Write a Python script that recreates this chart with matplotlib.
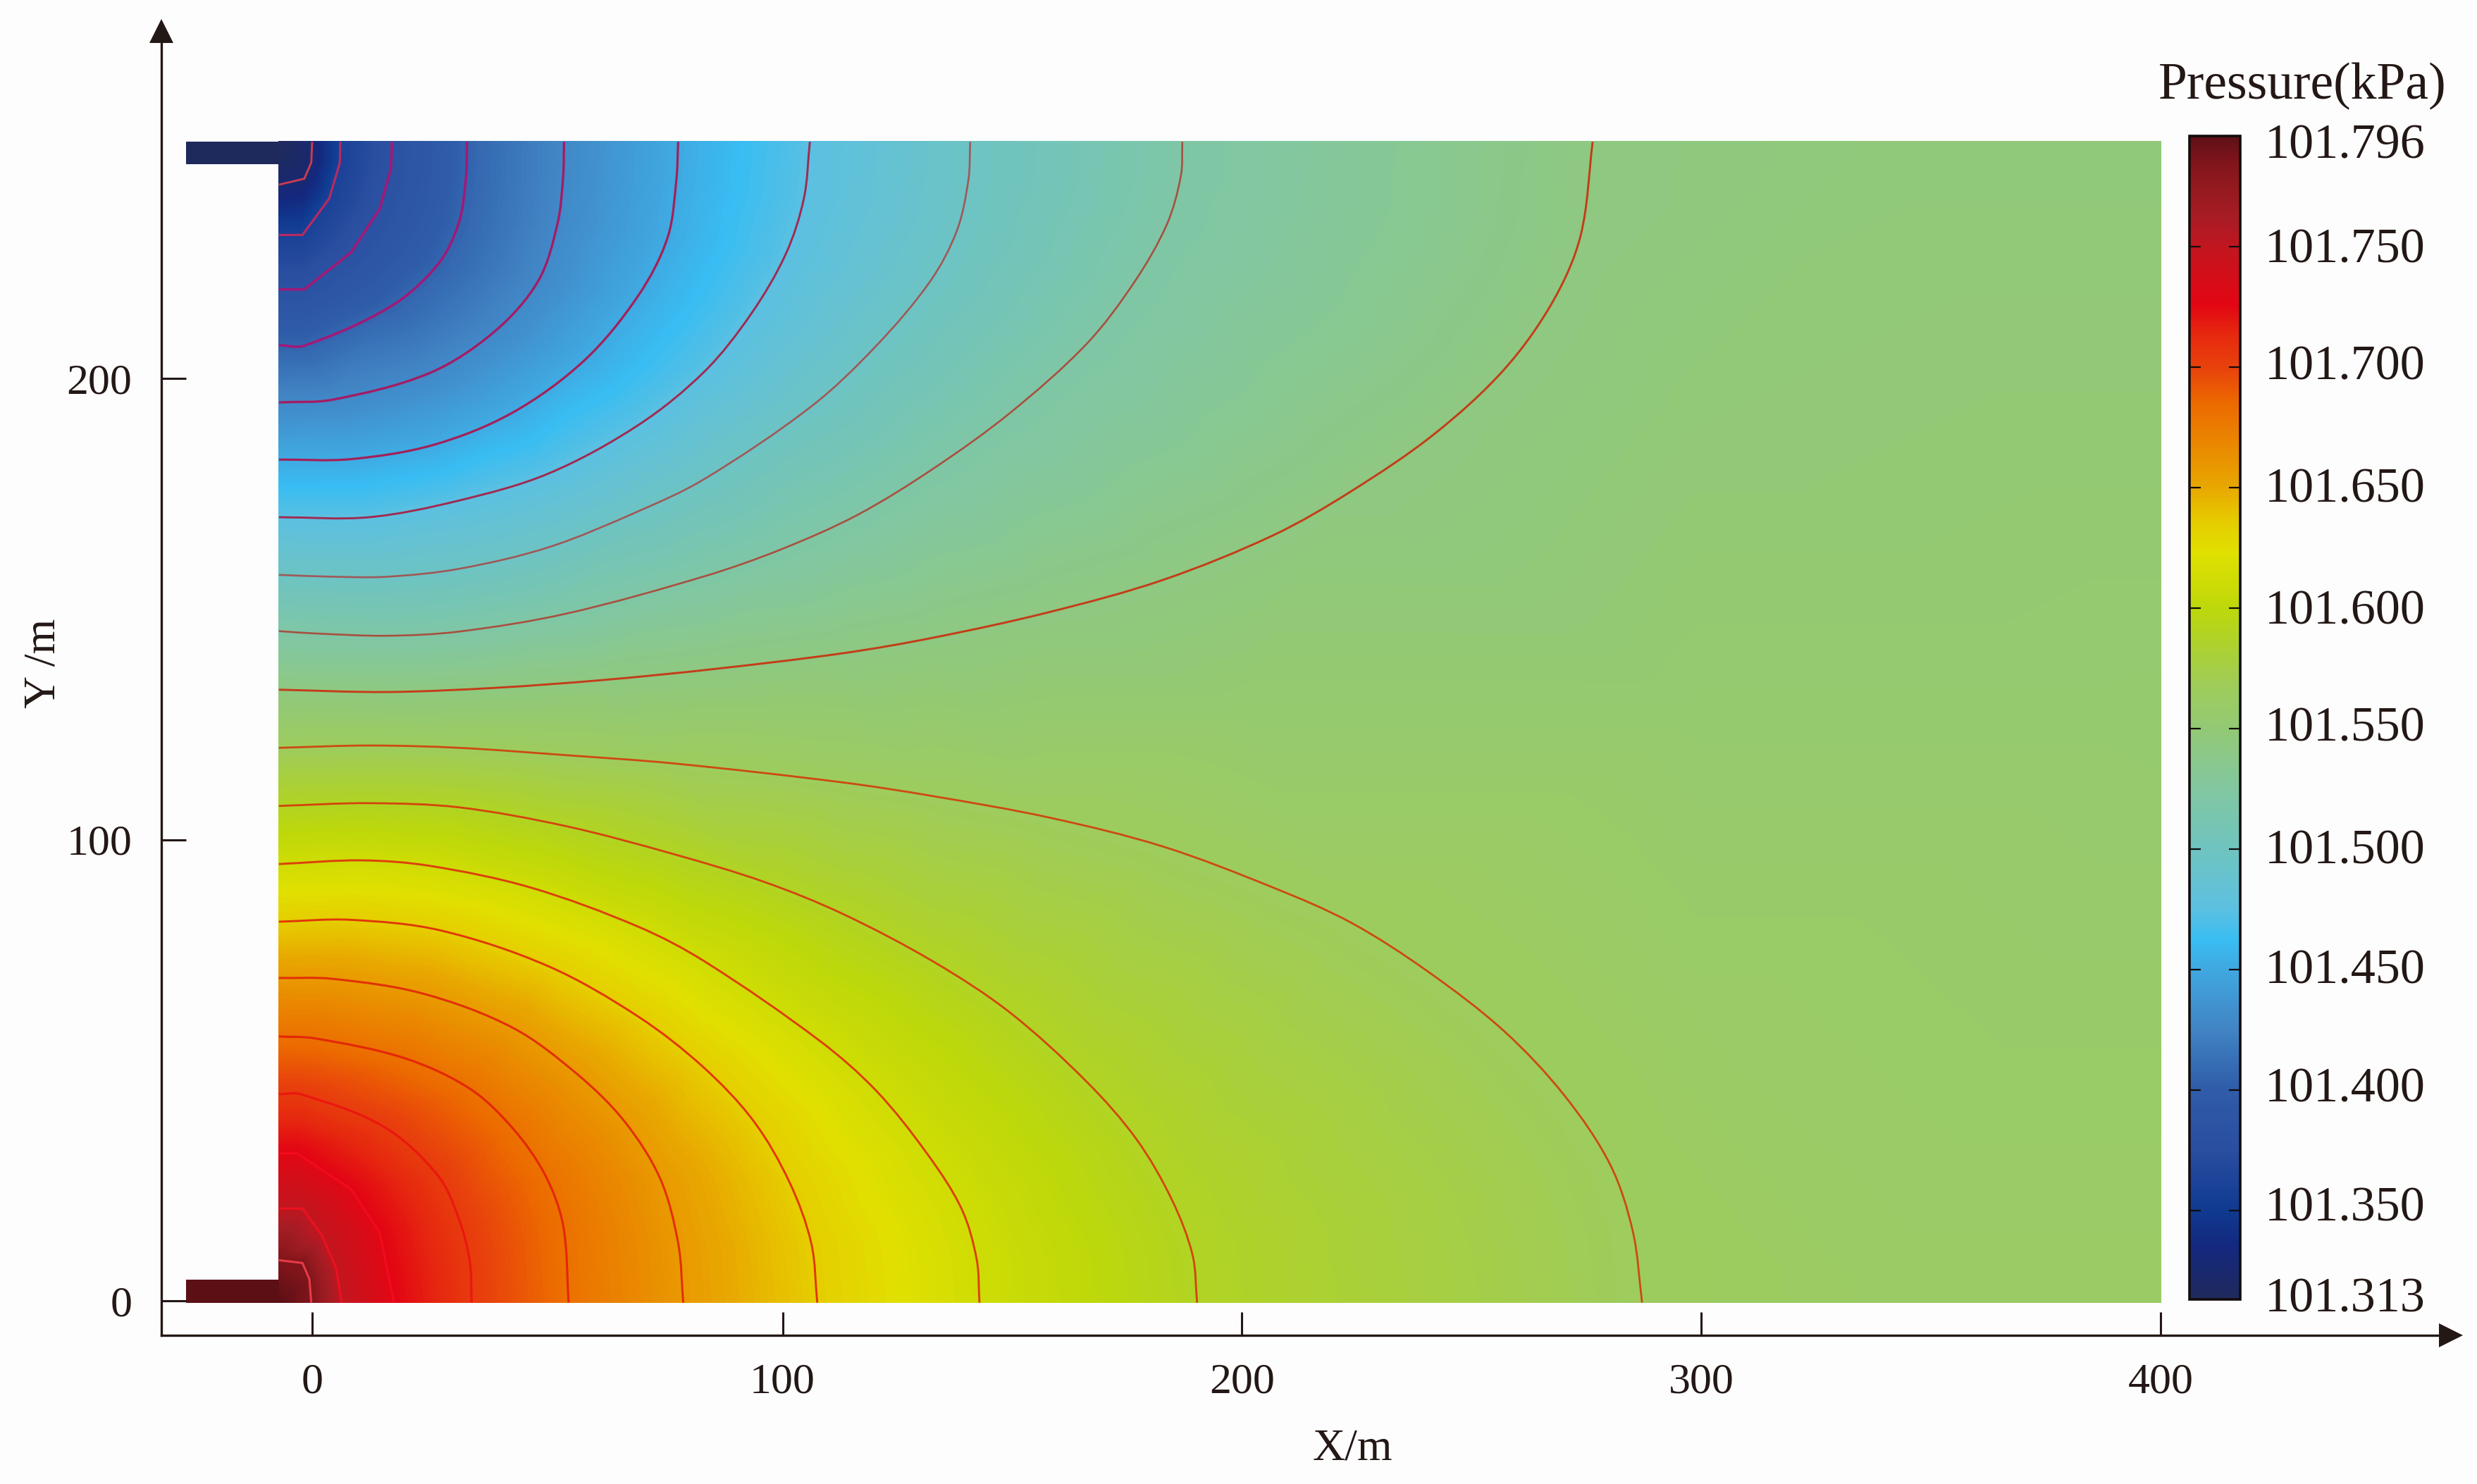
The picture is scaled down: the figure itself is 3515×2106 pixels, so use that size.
import numpy as np
import matplotlib
matplotlib.use('Agg')
import matplotlib.pyplot as plt
import matplotlib.tri as mtri
from matplotlib.colors import LinearSegmentedColormap, Normalize
from matplotlib.cm import ScalarMappable
from matplotlib.patches import PathPatch, Rectangle
from matplotlib.path import Path
from matplotlib.transforms import ScaledTranslation

plt.rcParams['font.family'] = ['Liberation Serif', 'DejaVu Serif']

W, H = 3515, 2106
INK = '#231815'

# values
cbar_values = [101.313, 101.335, 101.35, 101.375, 101.4, 101.425, 101.45, 101.462, 101.475, 101.5,
               101.525, 101.55, 101.567, 101.586, 101.6, 101.623, 101.636, 101.65, 101.67, 101.685,
               101.7, 101.714, 101.726, 101.75, 101.763, 101.774, 101.7875, 101.796]
cbar_colors = ['#1f2a5c', '#14287f', '#0f3a90', '#2a4ea0', '#2f5ca8', '#4184c4', '#40a8e0', '#38bdf2', '#5cc0e0', '#6fc4c0',
               '#82c7a0', '#93c975', '#9ecc5c', '#aed22a', '#bdd80a', '#e0e000', '#e6cc00', '#e8a800', '#ea8400', '#ec6a00',
               '#e8420c', '#e6280f', '#e30613', '#c2161f', '#a61c24', '#961a20', '#7a141a', '#5c1015']
cbar_ticks = [101.313, 101.35, 101.4, 101.45, 101.5, 101.55, 101.6, 101.65, 101.7, 101.75, 101.796]
cbar_label_shift = [7, 9, 7, 4, 4, 7, 2, 4, 7, 2, -7]  # px, hand placed labels in the original

x_tick_pos = [0, 101.8, 201.2, 300.6, 400]
x_tick_labels = ['0', '100', '200', '300', '400']
y_ticks = [0, 100, 200]

# contour lines under the mid line, outermost first
lower_levels = [101.566, 101.589, 101.612, 101.635, 101.658, 101.681, 101.704, 101.727, 101.75, 101.785]
lower_lines = [
    [(-7.2, 119.9), (12.3, 120.4), (31.7, 119.9), (55, 118.3), (78.4, 116.5), (114.8, 112.4), (134.5, 109.4),
     (159.4, 104.8), (184.1, 98.5), (208.2, 89.5), (224.8, 82), (241.3, 71.5), (257.9, 58.5), (271, 44.5),
     (280.9, 29.5), (285.8, 15), (287.8, -0.4)],
    [(-7.2, 107.3), (12.3, 107.9), (31.7, 107), (55, 102.9), (78.4, 96.8), (97.9, 90.8), (114.8, 83.9),
     (134.5, 73.5), (151, 62.5), (167.6, 47.5), (178.4, 35), (186, 22), (190.5, 10), (191.5, -0.4)],
    [(-7.2, 94.7), (10.7, 95.5), (25.5, 94.3), (47.3, 89.6), (70.6, 81.1), (84.9, 73.6), (109.8, 56.4),
     (122.1, 45.5), (133, 32), (140.5, 20), (143.8, 9), (144.4, -0.4)],
    [(-7.2, 82.2), (8.4, 82.6), (27.8, 80.3), (51.2, 72.5), (70.6, 61.6), (84.6, 50.7), (95.5, 39), (103.3, 25.7),
     (108, 12.5), (109.3, -0.4)],
    [(-7.2, 70), (4.5, 69.8), (24, 66.6), (43.4, 59.2), (57.4, 49.1), (67.5, 39), (75.3, 26.5), (79.2, 12.5),
     (80.3, -0.4)],
    [(-7.2, 57.3), (0.6, 56.9), (20, 52.6), (34.1, 46), (43.4, 37.4), (50.4, 27.3), (54.3, 16.4), (55.5, -0.4)],
    [(-7.2, 44.8), (-2.5, 44.8), (15.4, 37.8), (27.1, 27.3), (31.7, 17.9), (34.1, 8.6), (34.5, -0.4)],
    [(-7.2, 32), (-3.3, 32), (8.4, 24.2), (14.6, 14.8), (17.7, -0.4)],
    [(-7.2, 20), (-2.1, 20), (2.1, 14.2), (5.2, 7), (6.4, -0.4)],
    [(-7.2, 8.8), (-2.1, 8.2), (-0.6, 4.7), (-0.2, -0.4)],
]
lower_colors = ['#cc4a10', '#d4440c', '#dc400a', '#e03808', '#e23008', '#e42808', '#ea1810', '#f00c1c', '#ee1020', '#e83a48']
lower_widths = [2.0, 2.0, 2.1, 2.1, 2.2, 2.3, 2.4, 2.4, 2.2, 2.2]

# contour lines over the mid line, outermost first
upper_levels = [101.543, 101.52, 101.497, 101.474, 101.451, 101.428, 101.405, 101.382, 101.359, 101.325]
upper_lines = [
    [(-7.2, 132.5), (16.2, 132), (39.5, 132.9), (62.9, 134.6), (86.2, 136.9), (114.8, 140.4), (134.5, 143.8),
     (159.4, 149.3), (184.1, 156.3), (208, 166), (224.8, 175.5), (242.9, 188), (258, 202), (268.5, 216.7),
     (274.5, 231), (277.1, 251.3)],
    [(-7.2, 145.2), (0.6, 144.7), (16.2, 144.2), (31.7, 145.1), (55, 149), (84.9, 157.1), (101.4, 162.9),
     (118, 170.4), (134.5, 180.5), (151, 192.5), (167.6, 207.5), (178, 221), (185, 233.5), (188, 244), (188.3, 251.3)],
    [(-7.2, 157.4), (4.5, 157), (16.2, 157), (31.7, 158.7), (51.2, 163.4), (70.6, 171.2), (84.9, 178.2),
     (108.1, 194), (122, 207), (133.7, 221), (139.5, 232), (142, 243), (142.4, 251.3)],
    [(-7.2, 169.9), (12.3, 169.9), (31.7, 173.5), (51.2, 179.4), (70.6, 189.9), (84.9, 201.5), (95, 214),
     (102.5, 227), (106.4, 239), (107.7, 251.3)],
    [(-7.2, 182.4), (8.4, 182.5), (26.3, 185.6), (43.4, 192.6), (59, 204), (70.6, 218), (76.9, 230.5),
     (78.8, 242.9), (79.2, 251.3)],
    [(-7.2, 194.8), (4.5, 195.4), (25.5, 201.2), (39.5, 210.2), (48.9, 221.1), (53.1, 233.6), (54.3, 243.7),
     (54.5, 251.3)],
    [(-7.2, 207.2), (-1.7, 207.1), (17, 215.6), (27.1, 224.6), (31.7, 233.6), (33.3, 243.7), (33.5, 251.3)],
    [(-7.2, 219.3), (-1.7, 219.3), (8.4, 227.3), (14.6, 236.7), (17, 245.3), (17.3, 251.3)],
    [(-7.2, 231.1), (-2.1, 231.1), (3.7, 239), (6, 246.8), (6.1, 251.3)],
    [(-7.2, 242), (-1.7, 243.3), (-0.2, 246.8), (0, 251.3)],
]
upper_colors = ['#c43c18', '#a85040', '#a05858', '#a02a50', '#a42058', '#a41c64', '#a01a78', '#a01a78', '#b82a62', '#c83c50']
upper_widths = [2.1, 1.9, 1.9, 2.1, 2.3, 2.4, 2.6, 2.7, 2.3, 2.1]

# pressure read away from the lines: mid line, right side and the two corners
extra_x = [-7.2, 50, 100, 200, 300, 400, 340, 340, 400, 400, 300, 300, -7.2, -7.2]
extra_y = [126.2, 126.5, 127, 127, 126, 126, -0.4, 251.3, -0.4, 251.3, 60, 190, -0.4, 251.3]
extra_p = [101.5545, 101.5545, 101.5545, 101.5545, 101.5545, 101.5545, 101.562, 101.547, 101.562, 101.547,
           101.561, 101.549, 101.796, 101.313]


def px_x(px):
    return (px - 443) / 6.5575


def px_y(py):
    return (1846 - py) / 6.545


def line_path(pts, smooth):
    pts = np.array(pts, dtype=float)
    if not smooth:
        return Path(pts)
    # curve through the read points, tangents scaled by chord length
    seg = np.hypot(*np.diff(pts, axis=0).T)
    tang = np.zeros_like(pts)
    tang[1:-1] = (pts[2:] - pts[:-2]) / (seg[:-1] + seg[1:])[:, None]
    tang[0] = (pts[1] - pts[0]) / seg[0]
    tang[-1] = (pts[-1] - pts[-2]) / seg[-1]
    verts = [pts[0]]
    codes = [Path.MOVETO]
    for i in range(len(pts) - 1):
        verts += [pts[i] + tang[i] * seg[i] / 3, pts[i + 1] - tang[i + 1] * seg[i] / 3, pts[i + 1]]
        codes += [Path.CURVE4, Path.CURVE4, Path.CURVE4]
    return Path(verts, codes)


pmin, pmax = cbar_values[0], cbar_values[-1]
norm = Normalize(pmin, pmax)
stops = [(v - pmin) / (pmax - pmin) for v in cbar_values]
cmap = LinearSegmentedColormap.from_list('pressure', list(zip(stops, cbar_colors)), N=1024)

fig = plt.figure(figsize=(W / 100, H / 100), dpi=100, facecolor='#fdfdfd')
left, right, top, bottom = 229, 3478, 44, 1895
ax = fig.add_axes([left / W, 1 - bottom / H, (right - left) / W, (bottom - top) / H])
ax.set_facecolor('none')
ax.set_xlim(px_x(left), px_x(right))
ax.set_ylim(px_y(bottom), px_y(top))

# field: triangles through the points on the contour lines
xs, ys, ps = list(extra_x), list(extra_y), list(extra_p)
for lines, levels in ((lower_lines, lower_levels), (upper_lines, upper_levels)):
    for line, level in zip(lines, levels):
        for x, y in line:
            xs.append(x)
            ys.append(y)
            ps.append(level)
tri = mtri.Triangulation(xs, ys)
fill = ax.tricontourf(tri, ps, levels=np.linspace(pmin, pmax, 400), cmap=cmap, norm=norm)
fill.set_edgecolor('face')
fill.set_linewidth(0.4)

# the two stubs left of the wall
ax.add_patch(Rectangle((-27.3, -0.4), 20.1, 5.0, facecolor=cmap(norm(pmax)), edgecolor='none'))
ax.add_patch(Rectangle((-27.3, 246.4), 20.1, 4.9, facecolor=cmap(norm(pmin)), edgecolor='none'))

for lines, colors, widths in ((lower_lines, lower_colors, lower_widths), (upper_lines, upper_colors, upper_widths)):
    for i, line in enumerate(lines):
        ax.add_patch(PathPatch(line_path(line, i < 7), fill=False, edgecolor=colors[i], lw=widths[i],
                               capstyle='butt', joinstyle='round', zorder=3))

# axes with arrow heads
for side in ('top', 'right'):
    ax.spines[side].set_visible(False)
for side in ('left', 'bottom'):
    ax.spines[side].set_linewidth(2.4)
    ax.spines[side].set_color(INK)
ax.plot(1, 0, '>', color=INK, ms=24, mew=0, transform=ax.transAxes, clip_on=False)
ax.plot(0, 1, '^', color=INK, ms=24, mew=0, transform=ax.transAxes, clip_on=False)

ax.set_xticks(x_tick_pos)
ax.set_xticklabels(x_tick_labels)
ax.set_yticks(y_ticks)
ax.tick_params(axis='x', direction='in', length=23.8, width=2.2, color=INK, labelcolor=INK, labelsize=44.6, pad=28)
ax.tick_params(axis='y', direction='in', length=25, width=2.2, color=INK, labelcolor=INK, labelsize=44.6, pad=30)

ax.set_xlabel('X/m', fontsize=46, color=INK)
ax.xaxis.set_label_coords((1919 - left) / (right - left), -(2028 - bottom) / (bottom - top))
ax.set_ylabel('Y /m', fontsize=46, color=INK)
ax.yaxis.set_label_coords(-(229 - 92) / (right - left), (bottom - 941) / (bottom - top))

# colour bar
cax = fig.add_axes([3107 / W, 1 - 1844 / H, 72 / W, (1844 - 193) / H])
cb = fig.colorbar(ScalarMappable(norm=norm, cmap=cmap), cax=cax)
cb.outline.set_linewidth(2.6)
cb.outline.set_edgecolor('#120c0c')
cb.set_ticks(cbar_ticks)
cb.set_ticklabels(['%.3f' % v for v in cbar_ticks])
cax.minorticks_off()
cax.tick_params(axis='y', direction='in', left=True, right=True, length=11.5, width=1.6, color='#120c0c',
                labelcolor=INK, labelsize=50.5, pad=25)
for label, dy in zip(cax.get_yticklabels(), cbar_label_shift):
    label.set_transform(label.get_transform() + ScaledTranslation(0, dy / 100, fig.dpi_scale_trans))

fig.text(3267 / W, 1 - 122 / H, 'Pressure(kPa)', fontsize=53, color=INK, ha='center', va='center')

fig.savefig('out.png', dpi=100, facecolor=fig.get_facecolor())
